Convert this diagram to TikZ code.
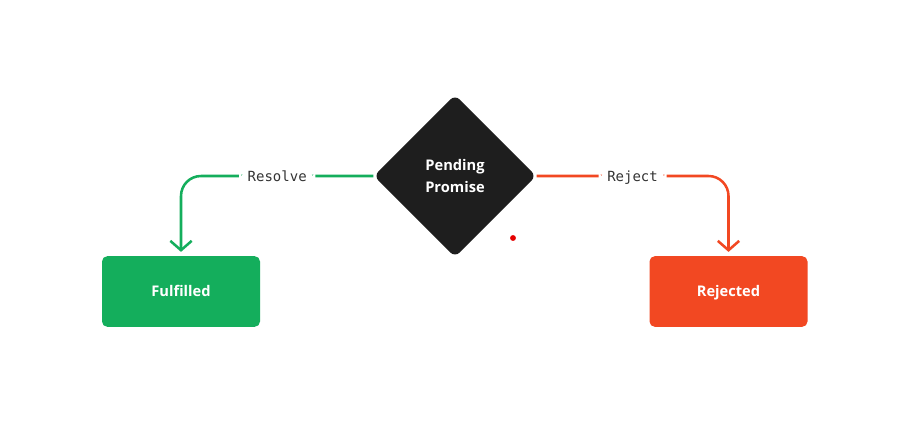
\documentclass[tikz,border=0pt]{standalone}
\usepackage{fontspec}
\setmainfont{Open Sans}
\setmonofont{DejaVu Sans Mono}
\usetikzlibrary{shapes.geometric, arrows.meta}
\definecolor{okgreen}{HTML}{14AE5C}
\definecolor{errred}{HTML}{F24822}
\definecolor{darkfill}{HTML}{1E1E1E}
\definecolor{labelgray}{HTML}{333333}

\begin{document}
\begin{tikzpicture}[x=0.75pt, y=-0.75pt,
  state/.style={rounded corners=4pt, minimum width=118.5pt, minimum height=53pt, inner sep=0pt, text height=8pt, text depth=0pt, text=white, font=\bfseries\fontsize{11}{13}\selectfont},
  edgelabel/.style={fill=white, draw=white, line width=1pt, inner xsep=6pt, inner ysep=4pt, text height=7.5pt, text depth=2.5pt, yshift=-1.5pt, text=labelgray, font=\ttfamily\fontsize{10.5}{12}\selectfont},
  flow/.style={line width=1.9pt, rounded corners=15pt, -{Straight Barb[length=7pt, width=16pt, line width=1.9pt]}, shorten >=3pt}]
  % fix the page size
  \path[fill=white] (0,0) rectangle (916,424);

  % Draw the diamond with text "Pending Promise"
  \node[diamond, fill=darkfill, rounded corners=5pt, minimum width=122pt, minimum height=122pt, inner sep=0pt, text=white, align=center, font=\bfseries\fontsize{11}{16.5}\selectfont] (pending) at (455,176) {Pending\\Promise};

  % Draw the two result boxes
  \node[state, fill=okgreen] (fulfilled) at (181,291.5) {Fulfilled};
  \node[state, fill=errred] (rejected) at (728.5,291.5) {Rejected};

  % Draw arrows from the diamond down to the boxes
  \draw[flow, okgreen] (pending.west) -| (fulfilled.north) node[edgelabel, pos=0.25] {Resolve};
  \draw[flow, errred] (pending.east) -| (rejected.north) node[edgelabel, pos=0.25] {Reject};

  % small red dot
  \fill[red!90!black] (513,238) circle (2.2pt);
\end{tikzpicture}
\end{document}
